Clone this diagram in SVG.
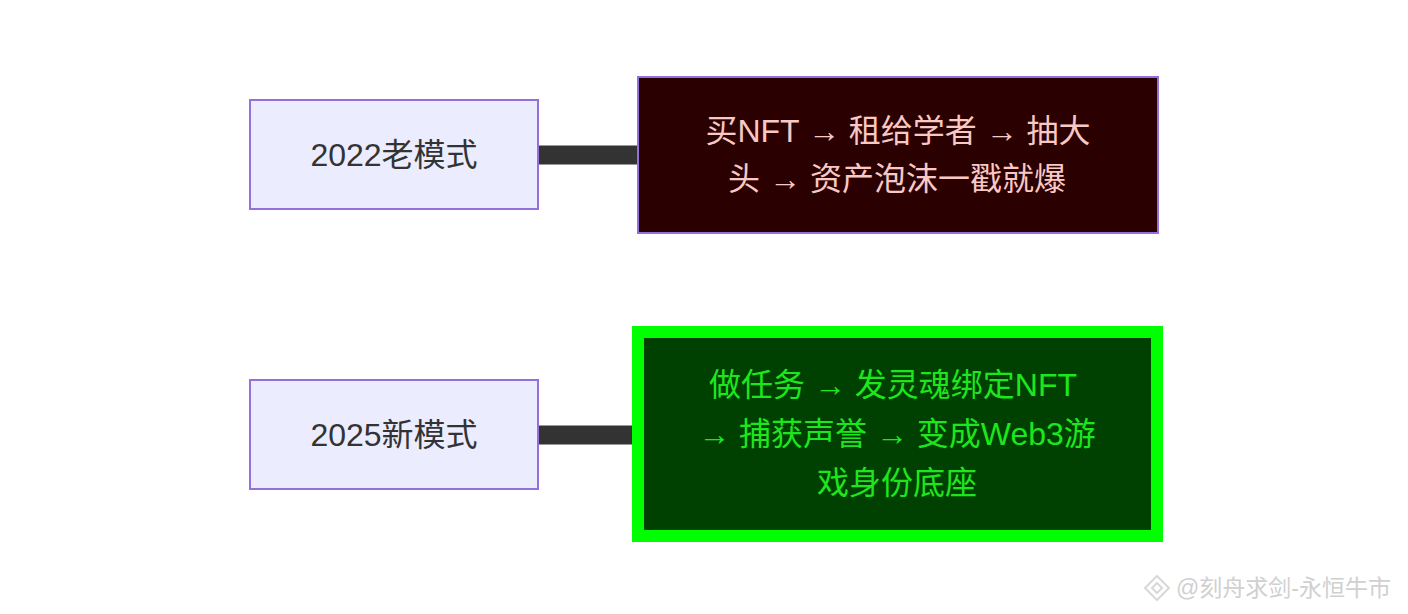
<svg xmlns="http://www.w3.org/2000/svg" width="1408" height="614" viewBox="0 0 1408 614">
<style>
text{font-family:"Liberation Sans","Noto Sans CJK SC",sans-serif;font-size:32px;text-anchor:middle;dominant-baseline:central}
.a rect{fill:#ECECFF;stroke:#9370DB;stroke-width:2}
.a text{fill:#333333}
.edge{stroke:#333333;stroke-width:19;fill:none}
.wm{font-size:23px;fill:#d0d0d0;text-anchor:start}
</style>
<rect width="1408" height="614" fill="#ffffff"/>
<g id="connectors">
<line class="edge" x1="538" y1="155" x2="639" y2="155"/>
<line class="edge" x1="538" y1="435" x2="633" y2="435"/>
</g>
<g id="old" class="a">
<rect x="250" y="100" width="288" height="109"/>
<text x="394" y="155">2022老模式</text>
</g>
<g id="new" class="a">
<rect x="250" y="380" width="288" height="109"/>
<text x="394" y="435">2025新模式</text>
</g>
<g id="oldDesc">
<rect x="638" y="77" width="520" height="156" fill="#2b0000" stroke="#9370DB" stroke-width="2"/>
<text x="898" y="131" fill="#f8c8c4">买NFT → 租给学者 → 抽大</text>
<text x="897" y="179" fill="#f8c8c4">头 → 资产泡沫一戳就爆</text>
</g>
<g id="newDesc">
<rect x="638" y="332" width="519" height="204" fill="#004000" stroke="#00ff00" stroke-width="12"/>
<text x="893" y="385" fill="#1ee61e">做任务 → 发灵魂绑定NFT</text>
<text x="897" y="434" fill="#1ee61e">→ 捕获声誉 → 变成Web3游</text>
<text x="897" y="483" fill="#1ee61e">戏身份底座</text>
</g>
<g id="watermark">
<g fill="none" stroke="#d8d8d8" stroke-width="2">
<path d="M1157 576 L1169 588 L1157 600 L1145 588 Z"/>
<path d="M1157 583 L1162 588 L1157 593 L1152 588 Z"/>
</g>
<text class="wm" x="1176" y="588">@刻舟求剑-永恒牛市</text>
</g>
</svg>
